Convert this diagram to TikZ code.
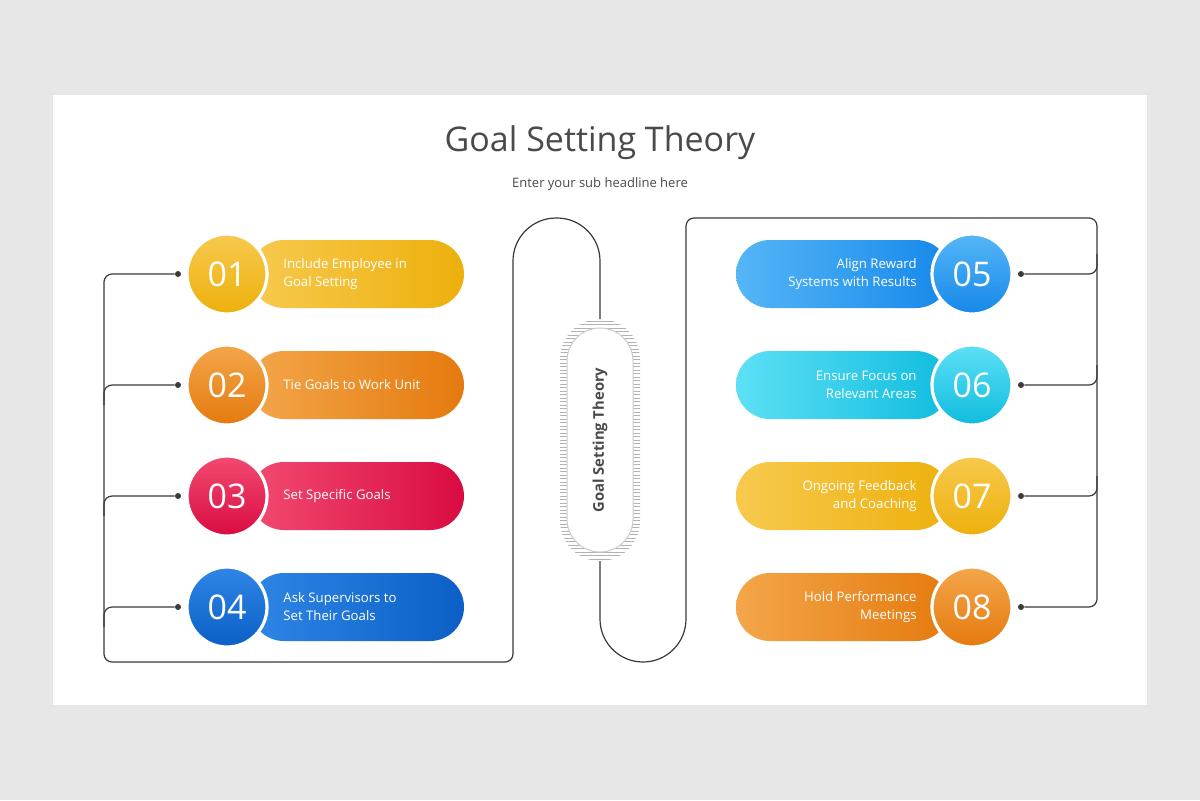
\documentclass[tikz,border=0pt]{standalone}
\usepackage{fontspec}
\setmainfont{Open Sans}
\usepackage{tikz}
\usetikzlibrary{positioning}
\definecolor{pagebg}{HTML}{E8E7E8}
\definecolor{wire}{HTML}{3A3A3A}
\definecolor{ink}{HTML}{4A4A4A}
\definecolor{yelA}{HTML}{F7C94E}\definecolor{yelB}{HTML}{EDB00C}
\definecolor{oraA}{HTML}{F3A64A}\definecolor{oraB}{HTML}{E57A0E}
\definecolor{redA}{HTML}{F24A70}\definecolor{redB}{HTML}{D90C42}
\definecolor{bluA}{HTML}{2F86E6}\definecolor{bluB}{HTML}{0B5FC6}
\definecolor{skyA}{HTML}{55B6F7}\definecolor{skyB}{HTML}{1688EA}
\definecolor{cyaA}{HTML}{5DE0F6}\definecolor{cyaB}{HTML}{10BCDE}
\tikzset{
    bar/.style={minimum width=107pt, minimum height=34pt, rounded corners=17pt,
        inner sep=0pt},
    numdisc/.style={circle, minimum size=40pt, draw=white, line width=1.6pt,
        text=white, font=\fontsize{17}{17}\selectfont},
    bartext/.style={text=white, font=\fontsize{6.6}{9}\selectfont, inner sep=0pt},
    dot/.style={circle, fill=wire, inner sep=0pt, minimum size=3pt},
    wireline/.style={draw=wire, line width=0.6pt},
}
\begin{document}
\begin{tikzpicture}[x=0.5pt, y=-0.5pt]
    \useasboundingbox (0,0) rectangle (1200,800);
    \fill[pagebg] (0,0) rectangle (1200,800);
    \fill[white] (53,95) rectangle (1147,705);

    \node[text=ink, font=\fontsize{17}{17}\selectfont] (title) at (600,143) {Goal Setting Theory};
    \node[text=ink, font=\fontsize{6.5}{8}\selectfont] (sub) at (600,184) {Enter your sub headline here};

    % left column
    \foreach \i/\y/\ca/\cb/\txt in {1/274/yelA/yelB/{Include Employee in\\Goal Setting},
                                    2/385/oraA/oraB/{Tie Goals to Work Unit},
                                    3/496/redA/redB/{Set Specific Goals},
                                    4/607/bluA/bluB/{Ask Supervisors to\\Set Their Goals}}{
        \node[bar, left color=\ca, right color=\cb] (bar\i) at (357,\y) {};
        \node[numdisc, top color=\ca, bottom color=\cb] (num\i) at (227,\y) {0\i};
        \node[bartext, align=left, anchor=west] (txt\i) at (283,\y) {\txt};
        \node[dot] (dot\i) at (178,\y) {};
    }
    % right column
    \foreach \i/\y/\ca/\cb/\txt in {5/274/skyA/skyB/{Align Reward\\Systems with Results},
                                    6/385/cyaA/cyaB/{Ensure Focus on\\Relevant Areas},
                                    7/496/yelA/yelB/{Ongoing Feedback\\and Coaching},
                                    8/607/oraA/oraB/{Hold Performance\\Meetings}}{
        \node[bar, left color=\ca, right color=\cb] (bar\i) at (843,\y) {};
        \node[numdisc, top color=\ca, bottom color=\cb] (num\i) at (972,\y) {0\i};
        \node[bartext, align=right, anchor=east] (txt\i) at (917,\y) {\txt};
        \node[dot] (dot\i) at (1021,\y) {};
    }

    % centre capsule with hatched rim
    \begin{scope}
        \clip (560,319) [rounded corners=20pt] rectangle (640,561);
        \foreach \k in {0,...,68}
            \draw[gray!60, line width=0.4pt] (555,321+3.5*\k) -- (645,321+3.5*\k);
    \end{scope}
    \node[draw=gray!40, fill=white, line width=0.5pt, rounded corners=16.5pt,
        minimum width=33pt, minimum height=112pt] (core) at (600,440) {};
    \node[rotate=90, text=ink, font=\bfseries\fontsize{7.4}{8}\selectfont] (coretxt) at (core) {Goal Setting Theory};
    \coordinate (coreN) at (600,319);
    \coordinate (coreS) at (600,561);

    % connectors
    \draw[wireline, rounded corners=4pt] (dot1) -- (104,274) -- (104,662) -- (300,662);
    \draw[wireline, rounded corners=4pt] (300,662) -- (513,662) -- (513,400);
    \draw[wireline, rounded corners=21.5pt] (513,400) -- (513,218) -- (600,218) -- (coreN);
    \foreach \i/\y in {2/385,3/496,4/607}
        \draw[wireline, rounded corners=4pt] (dot\i) -- (104,\y) -- (104,\y+20);
    \draw[wireline, rounded corners=21.5pt] (coreS) -- (600,662) -- (686,662) -- (686,400);
    \draw[wireline, rounded corners=4pt] (686,400) -- (686,218) -- (1097,218) -- (1097,607) -- (dot8);
    \foreach \i/\y in {5/274,6/385,7/496}
        \draw[wireline, rounded corners=4pt] (dot\i) -- (1097,\y) -- (1097,\y-20);
\end{tikzpicture}
\end{document}
